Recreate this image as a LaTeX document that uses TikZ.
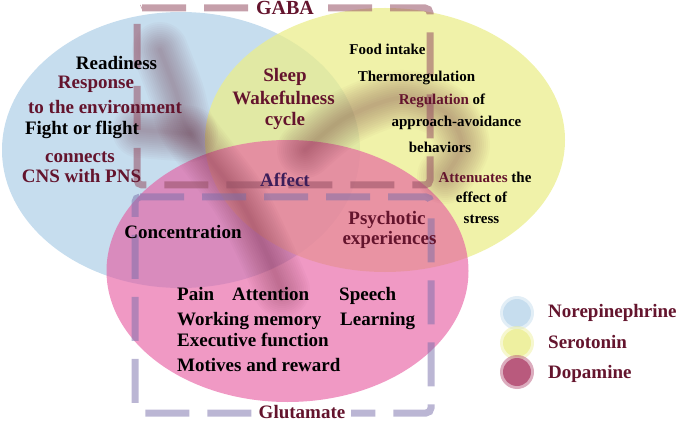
\documentclass[tikz,border=0pt]{standalone}
\usepackage{fontspec}
\setmainfont{Liberation Serif}
\definecolor{neblue}{RGB}{198,221,238}
\definecolor{seyel}{RGB}{235,238,140}
\definecolor{dapink}{RGB}{230,90,160}
\definecolor{maroonc}{RGB}{100,20,45}
\definecolor{gabac}{RGB}{150,80,100}
\definecolor{glutc}{RGB}{120,110,170}
\definecolor{affc}{RGB}{60,30,90}
\definecolor{shadowc}{RGB}{100,30,50}
\definecolor{legyel}{RGB}{238,240,160}
\definecolor{legdop}{RGB}{185,90,125}
\begin{document}
\begin{tikzpicture}[x=1pt,y=-1pt,
  big/.style={font=\bfseries\fontsize{19}{21}\selectfont, inner sep=0pt, anchor=base},
  sml/.style={font=\bfseries\fontsize{15}{17}\selectfont, inner sep=0pt, anchor=base},
  mar/.style={text=maroonc},
  blk/.style={text=black},
  boxline/.style={line width=7pt, rounded corners=5pt, dash pattern=on 44pt off 18pt},
  shadowpath/.style={draw=shadowc, line cap=round, line join=round}
]
\useasboundingbox (0,0) rectangle (685,422);

% ellipses
\fill[neblue] (181,150) ellipse [x radius=179pt, y radius=138pt];
\fill[seyel, opacity=0.75] (385,140) ellipse [x radius=180pt, y radius=132pt];
\fill[dapink, opacity=0.62] (287.5,271) ellipse [x radius=181pt, y radius=131pt];

% blurred shadow shape
\foreach \i in {1,...,14}{
  \pgfmathsetmacro{\w}{4*\i}
  \draw[shadowpath, line width=\w pt, opacity=0.028] plot[smooth] coordinates {(160,50) (176,92) (186,126) (212,162) (240,200) (265,250) (282,290)};
  \draw[shadowpath, line width=\w pt, opacity=0.028] plot[smooth] coordinates {(140,130) (190,134)};
  \draw[shadowpath, line width=\w pt, opacity=0.028] plot[smooth] coordinates {(305,150) (345,118) (400,98) (445,112) (462,145) (445,176)};
}

% dashed boxes
\draw[boxline, draw=gabac, opacity=0.55] (137,8) -- (430,8) -- (430,185) -- (137,185) -- cycle;
\draw[boxline, draw=glutc, opacity=0.5] (135,197) -- (431,197) -- (431,413) -- (135,413) -- cycle;

% box labels
\node[big, mar, fill=white, inner xsep=6pt, inner ysep=1pt, font=\bfseries\fontsize{20}{22}\selectfont] (gaba) at (285,15) {GABA};
\node[big, mar, fill=white, inner xsep=6pt, inner ysep=0pt] (glut) at (302,418) {Glutamate};

% Norepinephrine texts
\node[big, blk] (t1) at (116.5,70) {Readiness};
\node[big, mar] (t2) at (96,89) {Response};
\node[big, mar] (t3) at (105,114) {to the environment};
\node[big, blk] (t4) at (82,135) {Fight or flight};
\node[big, mar] (t5) at (80,163) {connects};
\node[big, mar] (t6) at (81.5,183) {CNS with PNS};

% blue-yellow overlap
\node[big, mar] (s1) at (285,82) {Sleep};
\node[big, mar] (s2) at (283.5,105) {Wakefulness};
\node[big, mar] (s3) at (285,126) {cycle};

% center
\node[big, text=affc] (aff) at (285,187) {Affect};

% serotonin texts
\node[sml, blk] (y1) at (387.5,55) {Food intake};
\node[sml, blk] (y2) at (416.5,82) {Thermoregulation};
\node[sml, blk] (y3) at (442,105) {\textcolor{maroonc}{Regulation} of};
\node[sml, blk] (y4) at (456.5,127) {approach-avoidance};
\node[sml, blk] (y5) at (440,153) {behaviors};
\node[sml, blk] (y6) at (485,183) {\textcolor{maroonc}{Attenuates} the};
\node[sml, blk] (y7) at (481.5,203) {effect of};
\node[sml, blk] (y8) at (481.5,223) {stress};

% pink-yellow overlap
\node[big, mar] (p1) at (387,225) {Psychotic};
\node[big, mar] (p2) at (389.5,244) {experiences};

% blue-pink overlap
\node[big, blk] (c1) at (183,238) {Concentration};

% dopamine texts
\node[big, blk, anchor=base west] (d1) at (177,300) {Pain};
\node[big, blk, anchor=base west] (d2) at (232,300) {Attention};
\node[big, blk, anchor=base west] (d3) at (339,300) {Speech};
\node[big, blk, anchor=base west] (d4) at (177,325) {Working memory};
\node[big, blk, anchor=base west] (d5) at (340,325) {Learning};
\node[big, blk, anchor=base west] (d6) at (177,346) {Executive function};
\node[big, blk, anchor=base west] (d7) at (177,371) {Motives and reward};

% legend
\fill[neblue, opacity=0.5] (517,313) circle[radius=17pt];
\fill[neblue] (517,313) circle[radius=14pt];
\fill[legyel, opacity=0.5] (517,343) circle[radius=17pt];
\fill[legyel] (517,343) circle[radius=14pt];
\fill[legdop, opacity=0.5] (517,372) circle[radius=17pt];
\fill[legdop] (517,372) circle[radius=14pt];
\node[big, mar, anchor=base west] (l1) at (548,317) {Norepinephrine};
\node[big, mar, anchor=base west] (l2) at (548,348) {Serotonin};
\node[big, mar, anchor=base west] (l3) at (548,378) {Dopamine};
\end{tikzpicture}
\end{document}
